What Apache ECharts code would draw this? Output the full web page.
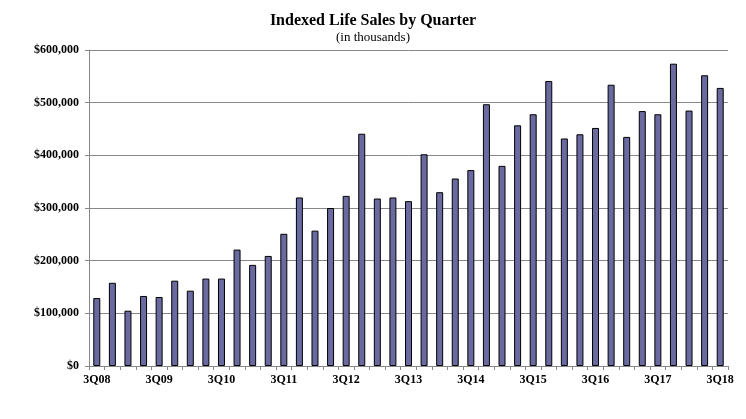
<!DOCTYPE html>
<html>
<head>
<meta charset="utf-8">
<script src="https://cdn.jsdelivr.net/npm/echarts@6/dist/echarts.min.js"></script>
<style>
  html, body { margin: 0; padding: 0; background: #ffffff; }
  #main { width: 746px; height: 419px; }
</style>
</head>
<body>
<div id="main"></div>
<script>
const quarters = [
  '3Q08', '4Q08', '1Q09', '2Q09', '3Q09', '4Q09', '1Q10', '2Q10', '3Q10', '4Q10',
  '1Q11', '2Q11', '3Q11', '4Q11', '1Q12', '2Q12', '3Q12', '4Q12', '1Q13', '2Q13',
  '3Q13', '4Q13', '1Q14', '2Q14', '3Q14', '4Q14', '1Q15', '2Q15', '3Q15', '4Q15',
  '1Q16', '2Q16', '3Q16', '4Q16', '1Q17', '2Q17', '3Q17', '4Q17', '1Q18', '2Q18',
  '3Q18'
];
// thousands of dollars
const sales = [
  129, 158, 105, 133, 131, 162, 143, 166, 166, 221,
  192, 209, 251, 320, 257, 300, 323, 441, 318, 320,
  313, 402, 330, 356, 372, 497, 380, 457, 478, 541,
  432, 440, 452, 534, 435, 484, 478, 574, 485, 552,
  528
];
const yTicks = [0, 100000, 200000, 300000, 400000, 500000, 600000];

const chart = echarts.init(document.getElementById('main'));

const option = {
  animation: false,
  title: {
    text: 'Indexed Life Sales by Quarter',
    subtext: '(in thousands)',
    left: 'center',
    top: 8,
    itemGap: 2,
    textStyle: {
      fontFamily: 'Liberation Serif',
      fontSize: 16,
      fontWeight: 'bold',
      color: '#000000'
    },
    subtextStyle: {
      fontFamily: 'Liberation Serif',
      fontSize: 13,
      color: '#000000'
    }
  },
  grid: {
    left: 89,
    right: 18,
    top: 50,
    bottom: 53
  },
  xAxis: {
    type: 'category',
    data: quarters,
    axisLine: { lineStyle: { color: '#888888', width: 1 } },
    axisTick: {
      show: true,
      interval: 0,
      length: 4,
      lineStyle: { color: '#888888' }
    },
    axisLabel: {
      interval: 3,
      margin: 8,
      fontFamily: 'Liberation Serif',
      fontSize: 12,
      fontWeight: 'bold',
      color: '#000000'
    }
  },
  yAxis: {
    type: 'value',
    min: yTicks[0],
    max: yTicks[yTicks.length - 1],
    interval: 100000,
    axisLine: { show: true, lineStyle: { color: '#888888' } },
    axisTick: { show: true, length: 4, lineStyle: { color: '#888888' } },
    splitLine: { lineStyle: { color: '#888888', width: 1 } },
    axisLabel: {
      margin: 10,
      fontFamily: 'Liberation Serif',
      fontSize: 12,
      fontWeight: 'bold',
      color: '#000000',
      formatter: function (v) {
        return '$' + v.toLocaleString('en-US');
      }
    }
  },
  series: [
    {
      type: 'bar',
      name: 'Indexed Life Sales',
      data: sales.map(function (v) { return v * 1000; }),
      barWidth: 7,
      itemStyle: {
        color: '#6a6aa0',
        borderColor: '#000000',
        borderWidth: 1
      }
    }
  ]
};

chart.setOption(option);
</script>
</body>
</html>
